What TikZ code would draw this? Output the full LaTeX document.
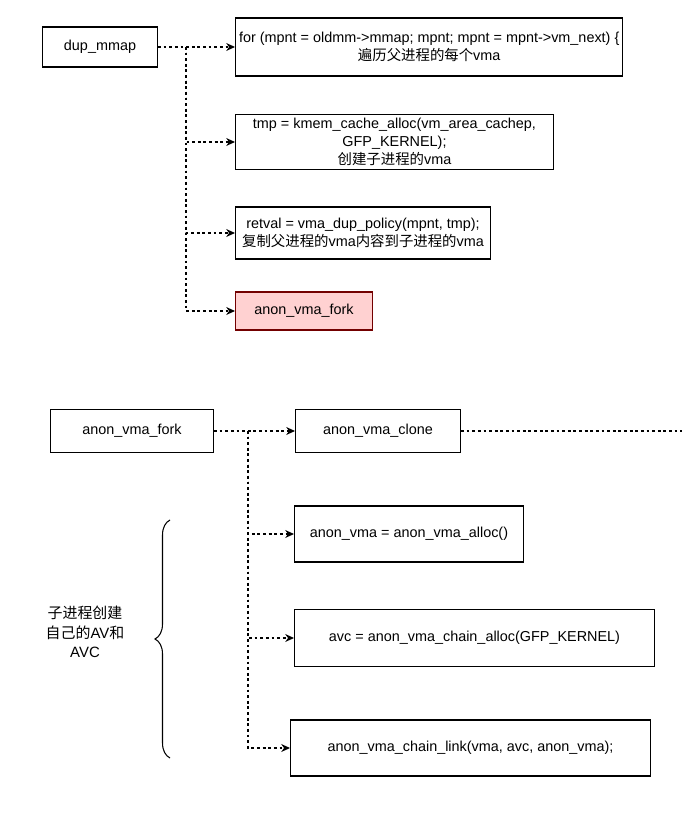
\documentclass[tikz,border=0pt]{standalone}
\usepackage{fontspec}
\setmainfont{Liberation Sans}
\newfontfamily\cjk{Noto Sans CJK SC}
\usetikzlibrary{arrows.meta,decorations.pathreplacing}
\tikzset{
  box/.style={draw, line width=0.6pt, minimum height=#1, align=center, inner sep=2pt, anchor=west, font=\fontsize{8.2}{10.2}\selectfont},
  flow/.style={draw, line width=0.6pt, dash pattern=on 1.6pt off 1.6pt, -{Stealth[length=5pt,width=4.5pt]}},
  plain/.style={draw, line width=0.6pt, dash pattern=on 1.6pt off 1.6pt}
}
\begin{document}
\begin{tikzpicture}[x=0.02cm,y=-0.02cm]
\useasboundingbox (0,0) rectangle (682,820);
% dup_mmap
\node[box=0.8cm, minimum width=2.3cm] (dup) at (42,47) {dup\_mmap};
\node[box=1.16cm, minimum width=7.56cm] (loop) at (235,47) {for (mpnt = oldmm->mmap; mpnt; mpnt = mpnt->vm\_next) \{\\{\cjk 遍历父进程的每个}vma};
\node[box=0.98cm, minimum width=6.36cm] (tmp) at (235,142) {tmp = kmem\_cache\_alloc(vm\_area\_cachep,\\GFP\_KERNEL);\\{\cjk 创建子进程的}vma};
\node[box=1.04cm, minimum width=5.1cm] (retval) at (235,233) {retval = vma\_dup\_policy(mpnt, tmp);\\{\cjk 复制父进程的}vma{\cjk 内容到子进程的}vma};
\node[box=0.76cm, minimum width=2.74cm, fill=red!18, draw=red!45!black] (fork1) at (235,311) {anon\_vma\_fork};
\coordinate (j1) at (186,47);
\draw[flow] (dup.east) -- (loop.west);
\draw[flow] (j1) |- (tmp.west);
\draw[flow] (j1) |- (retval.west);
\draw[flow] (j1) |- (fork1.west);
% anon_vma_fork
\node[box=0.86cm, minimum width=3.26cm] (fork2) at (50,431) {anon\_vma\_fork};
\node[box=0.86cm, minimum width=3.3cm] (clone) at (295,431) {anon\_vma\_clone};
\node[box=1.12cm, minimum width=4.58cm] (avalloc) at (294,534) {anon\_vma = anon\_vma\_alloc()};
\node[box=1.14cm, minimum width=7.2cm] (avc) at (294,638) {avc = anon\_vma\_chain\_alloc(GFP\_KERNEL)};
\node[box=1.12cm, minimum width=7.2cm] (link) at (290,748) {anon\_vma\_chain\_link(vma, avc, anon\_vma);};
\coordinate (j2) at (248,431);
\coordinate (tail) at (682,431);
\draw[flow] (fork2.east) -- (clone.west);
\draw[plain] (clone.east) -- (tail);
\draw[flow] (j2) |- (avalloc.west);
\draw[flow] (j2) |- (avc.west);
\draw[flow] (j2) |- (link.west);
% brace
\coordinate (b1) at (170,758);
\coordinate (b2) at (170,520);
\draw[line width=0.6pt, decorate, decoration={brace,amplitude=0.3cm}] (b1) -- (b2);
\node[align=center, font=\fontsize{8.5}{11}\selectfont] (note) at (85,632) {{\cjk 子进程创建}\\{\cjk 自己的}AV{\cjk 和}\\AVC};
\end{tikzpicture}
\end{document}
